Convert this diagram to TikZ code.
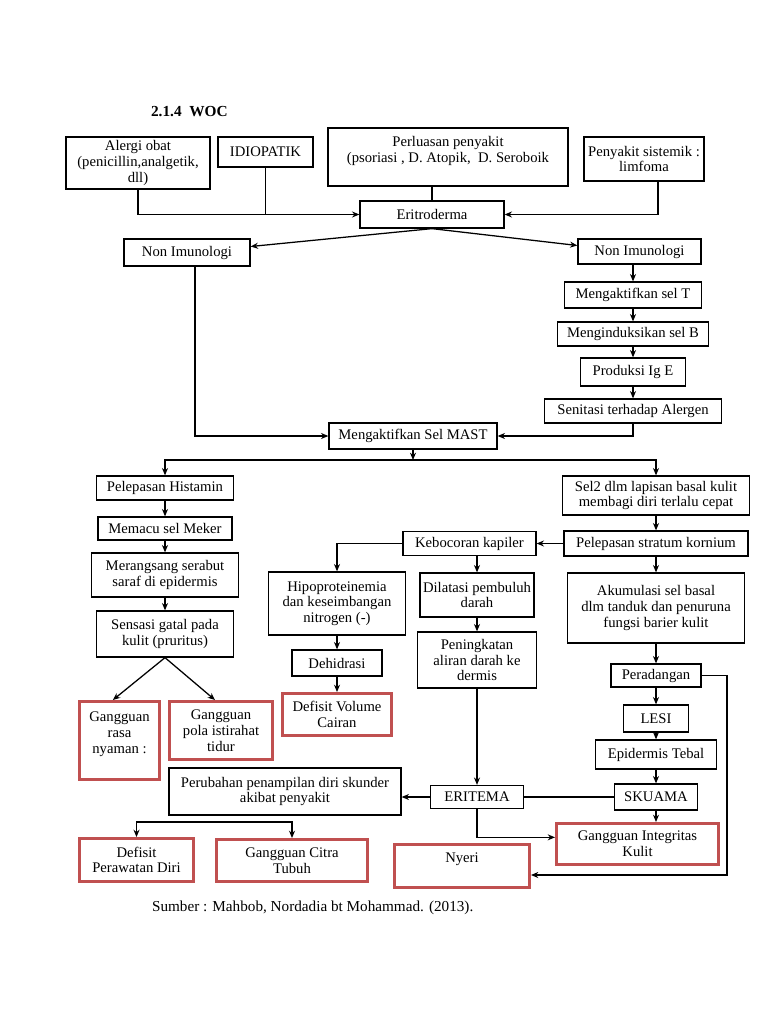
\documentclass[tikz,border=0pt]{standalone}
\usepackage{fontspec}
\setmainfont{Liberation Serif}
\usetikzlibrary{arrows.meta}
\definecolor{diagred}{RGB}{192,80,80}
\tikzset{
  box/.style={draw, align=center, inner sep=0pt, font=\fontsize{11}{11.8}\selectfont},
  sz/.style 2 args={minimum width=#1*0.75pt, minimum height=#2*0.75pt},
  diagbox/.style={box, draw=diagred, line width=2.2pt},
}
\begin{document}
\begin{tikzpicture}[x=0.75pt, y=-0.75pt, line width=0.95pt, >={Stealth[length=5.5pt,width=4.5pt]}]
    \useasboundingbox[fill=white] (0,0) rectangle (768,1024);
    % Heading
    \node[anchor=west, font=\fontsize{11.5}{13}\selectfont\bfseries] (judul) at (146,112) {2.1.4\ \ WOC};
    % Causes
    \node[box, sz={144}{52}] (alergi) at (138,163) {Alergi obat\\(penicillin,analgetik,\\dll)};
    \node[box, sz={95}{30}] (idio) at (265.5,152) {IDIOPATIK};
    \node[box, sz={240}{58}] (perluas) at (448,157) {Perluasan penyakit\\(psoriasi , D. Atopik,\ \ D. Seroboik\\\mbox{}};
    \node[box, sz={120}{44}] (sistemik) at (644,159) {Penyakit sistemik :\\limfoma};
    \node[box, sz={144}{27}] (erit) at (432,214.5) {Eritroderma};
    \draw[->] (alergi.south) |- (erit.west);
    \draw (idio.south) -- (idio.south |- erit.west);
    \draw (erit.north) -- (erit.north |- perluas.south);
    \draw[->] ([xshift=10.5pt]sistemik.south) |- (erit.east);
    % Two branches
    \node[box, sz={126}{27}] (nonL) at (187,252.5) {Non Imunologi};
    \node[box, sz={123}{25}] (nonR) at (639.5,251.5) {Non Imunologi};
    \draw[->] (erit.south) -- ([yshift=4.5pt]nonL.east);
    \draw[->] (erit.south) -- ([yshift=4.5pt]nonR.west);
    % Immune chain
    \node[box, sz={137}{26}] (selT) at (633,295) {Mengaktifkan sel T};
    \node[box, sz={151}{24}] (selB) at (633,334) {Menginduksikan sel B};
    \node[box, sz={105}{28}] (ige) at (633,372) {Produksi Ig E};
    \node[box, sz={177}{24}] (senit) at (633,411) {Senitasi terhadap Alergen};
    \draw[->] (nonR.south -| selT) -- (selT);
    \foreach \a/\b in {selT/selB, selB/ige, ige/senit}
        \draw[->] (\a) -- (\b);
    % Mast cells
    \node[box, sz={168}{26}] (mast) at (413,436) {Mengaktifkan Sel MAST};
    \draw[->] ([xshift=6pt]nonL.south) |- (mast.west);
    \draw[->] (senit.south) |- (mast.east);
    \coordinate (split) at (413,460);
    \draw[->] (mast.south) -- (split);
    % Left column
    \node[box, sz={137}{24}] (hist) at (165,488) {Pelepasan Histamin};
    \node[box, sz={134}{23}] (meker) at (165,528.5) {Memacu sel Meker};
    \node[box, sz={147}{44}] (merang) at (165,575) {Merangsang serabut\\saraf di epidermis};
    \node[box, sz={137}{46}] (sensasi) at (165,634) {Sensasi gatal pada\\kulit (pruritus)};
    \node[diagbox, sz={80}{78}] (rasa) at (119.5,740.5) {Gangguan\\rasa\\nyaman :\\\mbox{}};
    \node[diagbox, sz={103}{58}] (pola) at (221,730.5) {Gangguan\\pola istirahat\\tidur};
    \draw[->] (split) -| (hist.north);
    \foreach \a/\b in {hist/meker, meker/merang, merang/sensasi}
        \draw[->] (\a) -- (\b);
    \draw[->] (sensasi.south) -- ([xshift=-5pt]rasa.north);
    \draw[->] (sensasi.south) -- ([xshift=-4.5pt]pola.north);
    % Right column
    \node[box, sz={187}{39}] (sel2) at (656,495.5) {Sel2 dlm lapisan basal kulit\\membagi diri terlalu cepat};
    \node[box, sz={184}{25}] (stratum) at (656,543.5) {Pelepasan stratum kornium};
    \node[box, sz={177}{70}] (akum) at (656,608) {Akumulasi sel basal\\dlm tanduk dan penuruna\\fungsi barier kulit};
    \node[box, sz={90}{23}] (perad) at (656,675.5) {Peradangan};
    \node[box, sz={65}{27}] (lesi) at (656,718.5) {LESI};
    \node[box, sz={121}{29}] (epid) at (656,754.5) {Epidermis Tebal};
    \node[box, sz={83}{26}] (skuama) at (656,797) {SKUAMA};
    \draw[->] (split) -| (sel2.north);
    \foreach \a/\b in {sel2/stratum, stratum/akum, akum/perad, perad/lesi, lesi/epid, epid/skuama}
        \draw[->] (\a) -- (\b);
    % Middle column
    \node[box, sz={133}{24}] (keb) at (469.5,543.5) {Kebocoran kapiler};
    \node[box, sz={137}{63}] (hipo) at (337,603.5) {Hipoproteinemia\\dan keseimbangan\\nitrogen (-)};
    \node[box, sz={90}{26}] (dehid) at (337,663) {Dehidrasi};
    \node[diagbox, sz={109}{42}] (volume) at (337,714.5) {Defisit Volume\\Cairan};
    \node[box, sz={114}{44}] (dil) at (477,595) {Dilatasi pembuluh\\darah};
    \node[box, sz={119}{56}] (pen) at (477,660) {Peningkatan\\aliran darah ke\\dermis};
    \node[box, sz={93}{23}] (eritema) at (477,797) {ERITEMA};
    \draw[->] (stratum) -- (keb);
    \draw[->] (keb.west) -| (hipo.north);
    \draw[->] (keb.south -| dil) -- (dil);
    \foreach \a/\b in {hipo/dehid, dehid/volume, dil/pen, pen/eritema}
        \draw[->] (\a) -- (\b);
    % Bottom row
    \node[box, sz={232}{47}] (perub) at (285,791.5) {Perubahan penampilan diri skunder\\akibat penyakit};
    \node[diagbox, sz={162}{41}] (integ) at (637.5,844) {Gangguan Integritas\\Kulit};
    \node[diagbox, sz={135}{43}] (nyeri) at (462,866) {Nyeri\\\mbox{}};
    \node[diagbox, sz={114}{43}] (defisit) at (136.5,860) {Defisit\\Perawatan Diri};
    \node[diagbox, sz={151}{42}] (citra) at (292,860.5) {Gangguan Citra\\Tubuh};
    \draw (eritema) -- (skuama);
    \draw[->] (eritema.west) -- (eritema.west -| perub.east);
    \draw[->] (eritema.south) |- ([yshift=5pt]integ.west);
    \draw[->] (skuama.south) -- (skuama.south |- integ.north);
    \coordinate (rt) at (727,875);
    \draw[->] (perad.east) -| (rt) -- (rt -| nyeri.east);
    \coordinate (pj) at (292,822);
    \draw[<->] (defisit.north) |- (pj) -- (citra.north);
    % Source
    \node[anchor=west, font=\fontsize{11.4}{13}\selectfont] (sumber) at (147,908) {Sumber : Mahbob, Nordadia bt Mohammad. (2013).};
\end{tikzpicture}
\end{document}
